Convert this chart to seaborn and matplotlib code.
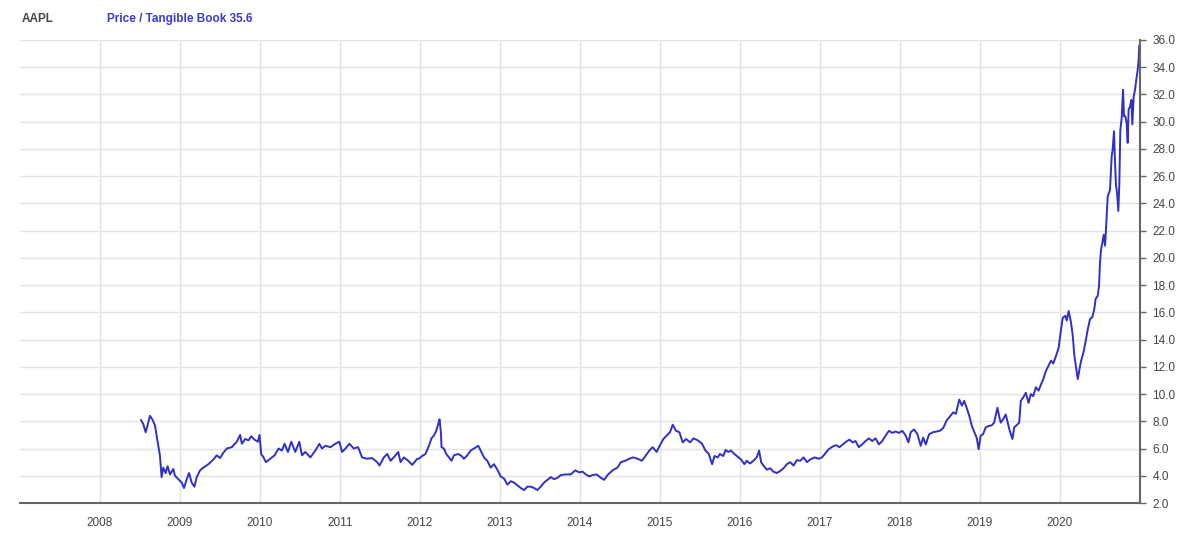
import pandas as pd
import seaborn as sns
import matplotlib.pyplot as plt

# tampilan dasar
sns.set_theme(style="whitegrid")
plt.rcParams['font.family'] = ['Liberation Sans', 'DejaVu Sans']

ticker = "AAPL"
metric_label = "Price / Tangible Book"
last_value = 35.6

# tanggal (tahun desimal) dan nilai P/TB yang dibaca dari grafik
years = [
    2008.511, 2008.541, 2008.570, 2008.595, 2008.624, 2008.653, 2008.687, 2008.720, 2008.749, 2008.770,
    2008.791, 2008.820, 2008.845, 2008.875, 2008.916, 2008.937, 2008.979, 2009.021, 2009.050, 2009.084,
    2009.113, 2009.146, 2009.180, 2009.209, 2009.251, 2009.292, 2009.355, 2009.418, 2009.459, 2009.501,
    2009.543, 2009.585, 2009.647, 2009.710, 2009.752, 2009.773, 2009.815, 2009.856, 2009.890, 2009.931,
    2009.973, 2009.994, 2010.015, 2010.044, 2010.074, 2010.128, 2010.182, 2010.232, 2010.274, 2010.307,
    2010.349, 2010.391, 2010.441, 2010.491, 2010.525, 2010.566, 2010.629, 2010.692, 2010.742, 2010.775,
    2010.817, 2010.880, 2010.942, 2010.992, 2011.026, 2011.068, 2011.118, 2011.172, 2011.226, 2011.276,
    2011.339, 2011.402, 2011.464, 2011.494, 2011.548, 2011.590, 2011.632, 2011.694, 2011.728, 2011.757,
    2011.799, 2011.853, 2011.903, 2011.966,
    2011.985, 2012.027, 2012.069, 2012.111, 2012.144, 2012.173, 2012.203, 2012.228, 2012.244, 2012.261,
    2012.269, 2012.299, 2012.328, 2012.361, 2012.395, 2012.424, 2012.478, 2012.520, 2012.549, 2012.591,
    2012.633, 2012.674, 2012.729, 2012.758, 2012.800, 2012.841, 2012.883, 2012.925, 2012.967, 2013.008,
    2013.050, 2013.092, 2013.134, 2013.175, 2013.217, 2013.259, 2013.301, 2013.342, 2013.384, 2013.426,
    2013.468, 2013.509, 2013.551, 2013.593, 2013.635, 2013.676, 2013.718, 2013.760, 2013.823, 2013.885,
    2013.940, 2013.990, 2014.031, 2014.073, 2014.115, 2014.157, 2014.207, 2014.261, 2014.302, 2014.344,
    2014.407, 2014.469, 2014.511, 2014.565, 2014.616, 2014.666, 2014.720, 2014.774, 2014.824, 2014.866,
    2014.908, 2014.958, 2015.000, 2015.042, 2015.084, 2015.125, 2015.159, 2015.200, 2015.242, 2015.284,
    2015.326, 2015.376, 2015.418, 2015.472, 2015.526, 2015.568, 2015.610, 2015.651, 2015.681, 2015.722,
    2015.749, 2015.791, 2015.820, 2015.854, 2015.887, 2015.929, 2015.971, 2016.013, 2016.054, 2016.084,
    2016.126, 2016.167, 2016.209, 2016.239, 2016.264, 2016.293, 2016.335, 2016.377, 2016.418, 2016.460,
    2016.502, 2016.544, 2016.586, 2016.628, 2016.669, 2016.711, 2016.753, 2016.795, 2016.837, 2016.879,
    2016.933, 2016.983, 2017.025, 2017.067, 2017.109, 2017.159, 2017.201, 2017.243, 2017.285, 2017.326,
    2017.368, 2017.410, 2017.444, 2017.485, 2017.527, 2017.569, 2017.611, 2017.653, 2017.695, 2017.736,
    2017.778, 2017.820, 2017.862, 2017.904, 2017.946, 2017.987, 2018.029, 2018.071, 2018.105, 2018.134,
    2018.176, 2018.218, 2018.259, 2018.289, 2018.322, 2018.364, 2018.414, 2018.456, 2018.498, 2018.540,
    2018.582, 2018.623, 2018.665, 2018.699, 2018.741, 2018.774, 2018.803, 2018.833, 2018.866, 2018.899,
    2018.929, 2018.958, 2018.983,
    2019.008, 2019.038, 2019.071, 2019.105, 2019.146, 2019.176, 2019.218, 2019.238, 2019.259, 2019.289,
    2019.322, 2019.343, 2019.372, 2019.406, 2019.427, 2019.456, 2019.490, 2019.510, 2019.540, 2019.573,
    2019.607, 2019.636, 2019.665, 2019.699, 2019.732, 2019.762, 2019.791, 2019.824, 2019.858, 2019.887,
    2019.916, 2019.950, 2019.983, 2020.013, 2020.034, 2020.067, 2020.084, 2020.109, 2020.138, 2020.159,
    2020.180, 2020.201, 2020.222, 2020.243, 2020.264, 2020.293, 2020.318, 2020.347,
    2020.375, 2020.404, 2020.429, 2020.446, 2020.471, 2020.488, 2020.500, 2020.513, 2020.529, 2020.546,
    2020.563, 2020.575, 2020.588, 2020.596, 2020.613, 2020.625, 2020.638, 2020.646, 2020.658, 2020.675,
    2020.688, 2020.700, 2020.713, 2020.729, 2020.742, 2020.754, 2020.771, 2020.788, 2020.800, 2020.817,
    2020.833, 2020.846, 2020.858, 2020.875, 2020.892, 2020.904, 2020.921, 2020.938, 2020.954, 2020.971,
    2020.983, 2020.990,
]

ptb = [
    8.1, 7.8, 7.2, 7.7, 8.4, 8.15, 7.7, 6.5, 5.5, 3.9,
    4.6, 4.2, 4.7, 4.1, 4.5, 4.0, 3.75, 3.5, 3.1, 3.75,
    4.2, 3.5, 3.2, 3.9, 4.4, 4.6, 4.85, 5.2, 5.5, 5.3,
    5.7, 6.0, 6.1, 6.5, 7.0, 6.35, 6.7, 6.6, 6.9, 6.65,
    6.5, 7.0, 5.6, 5.35, 5.0, 5.25, 5.5, 6.0, 5.85, 6.35,
    5.75, 6.5, 5.75, 6.5, 5.5, 5.75, 5.35, 5.85, 6.35, 6.0,
    6.2, 6.1, 6.35, 6.5, 5.75, 6.0, 6.35, 6.0, 6.1, 5.35,
    5.25, 5.3, 5.0, 4.75, 5.35, 5.6, 5.1, 5.5, 5.75, 5.0,
    5.35, 5.1, 4.8, 5.25,
    5.25, 5.45, 5.6, 6.2, 6.75, 6.95, 7.3, 7.8, 8.15, 7.2,
    6.1, 6.0, 5.6, 5.35, 5.1, 5.5, 5.6, 5.45, 5.25, 5.5,
    5.85, 6.0, 6.2, 5.85, 5.35, 5.1, 4.6, 4.85, 4.45, 3.95,
    3.8, 3.35, 3.6, 3.5, 3.3, 3.1, 2.95, 3.2, 3.2, 3.1,
    2.95, 3.2, 3.5, 3.7, 3.9, 3.75, 3.85, 4.05, 4.1, 4.1,
    4.4, 4.25, 4.3, 4.1, 3.95, 4.05, 4.1, 3.85, 3.7, 4.05,
    4.4, 4.6, 5.0, 5.1, 5.25, 5.35, 5.25, 5.1, 5.5, 5.85,
    6.1, 5.75, 6.25, 6.7, 6.95, 7.2, 7.75, 7.3, 7.2, 6.45,
    6.7, 6.45, 6.75, 6.6, 6.35, 5.85, 5.6, 4.85, 5.45, 5.35,
    5.6, 5.45, 5.9, 5.75, 5.85, 5.6, 5.4, 5.2, 4.85, 5.1,
    4.9, 5.1, 5.35, 5.85, 5.0, 4.75, 4.45, 4.55, 4.3, 4.2,
    4.35, 4.55, 4.85, 5.0, 4.75, 5.15, 5.1, 5.35, 5.0, 5.2,
    5.35, 5.25, 5.35, 5.65, 5.95, 6.15, 6.25, 6.1, 6.3, 6.5,
    6.65, 6.45, 6.55, 6.1, 6.3, 6.55, 6.75, 6.55, 6.75, 6.3,
    6.55, 6.95, 7.3, 7.15, 7.25, 7.15, 7.3, 6.95, 6.45, 7.2,
    7.4, 7.05, 6.2, 6.8, 6.3, 7.05, 7.2, 7.25, 7.3, 7.5,
    8.05, 8.35, 8.65, 8.55, 9.6, 9.15, 9.5, 9.0, 8.4, 7.65,
    7.2, 6.8, 5.95,
    6.95, 7.05, 7.55, 7.65, 7.7, 7.9, 9.0, 8.4, 7.9, 8.15,
    8.5, 8.0, 7.3, 6.7, 7.55, 7.7, 7.9, 9.5, 9.75, 10.1,
    9.35, 10.0, 9.85, 10.5, 10.25, 10.7, 11.1, 11.7, 12.1, 12.45,
    12.25, 12.8, 13.4, 14.75, 15.6, 15.75, 15.4, 16.1, 15.25, 14.3,
    12.8, 11.95, 11.1, 11.8, 12.45, 13.05, 13.8, 14.75,
    15.5, 15.65, 16.25, 17.0, 17.2, 17.95, 19.65, 20.6, 21.1, 21.7,
    20.9, 22.1, 23.55, 24.5, 24.8, 25.0, 26.5, 27.45, 27.95, 29.3,
    27.0, 25.3, 24.8, 23.45, 25.5, 29.4, 30.25, 32.35, 30.4, 30.4,
    29.9, 28.45, 30.9, 31.1, 31.6, 29.8, 31.85, 32.35, 33.1, 33.8,
    34.55, 35.6,
]

year_ticks = list(range(2008, 2021))
value_ticks = list(range(2, 37, 2))

df = pd.DataFrame({'tahun': years, 'ptb': ptb})

fig = plt.figure(figsize=(12, 5.42), dpi=100)
ax = fig.add_axes([20 / 1200, 1 - 503 / 542, 1120 / 1200, 463 / 542])

sns.lineplot(data=df, x='tahun', y='ptb', ax=ax, color='#3030c8', linewidth=1.4)

ax.set_xlim(2007.0, 2021.0)
ax.set_ylim(2, 36)
ax.set_xticks(year_ticks)
ax.set_xticklabels([str(y) for y in year_ticks])
ax.set_yticks(value_ticks)
ax.set_yticklabels([f"{v:.1f}" for v in value_ticks])
ax.yaxis.tick_right()
ax.set_xlabel('')
ax.set_ylabel('')

# garis grid tipis dan sumbu abu-abu gelap
ax.grid(True, color='#e3e3e3', linewidth=1)
for side in ['top', 'left']:
    ax.spines[side].set_visible(False)
for side in ['right', 'bottom']:
    ax.spines[side].set_visible(True)
    ax.spines[side].set_color('#666666')
    ax.spines[side].set_linewidth(1.5)
ax.tick_params(axis='both', which='both', direction='out', length=4, width=1,
               color='#666666', labelcolor='#444444', labelsize=8.5)
ax.tick_params(axis='x', pad=6)
ax.tick_params(axis='y', pad=5)

fig.text(22 / 1200, 1 - 19 / 542, ticker, fontsize=8.5, fontweight='bold',
         color='#444444', va='center', ha='left')
fig.text(107 / 1200, 1 - 19 / 542, f"{metric_label} {last_value}", fontsize=8.5,
         fontweight='bold', color='#3a3ad0', va='center', ha='left')

fig.savefig('out.png', dpi=100)
